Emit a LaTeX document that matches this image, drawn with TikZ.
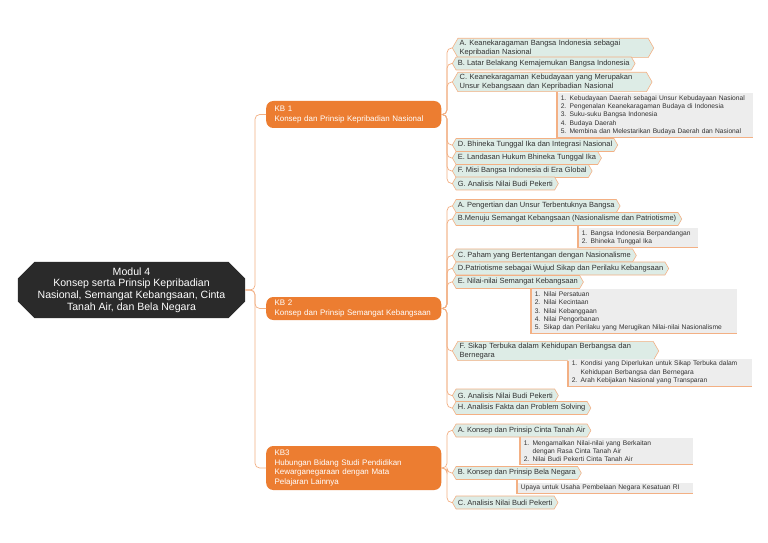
\documentclass[tikz,border=0pt]{standalone}
\usepackage{fontspec}
\setmainfont{Liberation Sans}
\usetikzlibrary{shapes.misc, shapes.symbols, positioning}
\definecolor{rootfill}{RGB}{42,42,42}
\definecolor{kbfill}{RGB}{236,125,49}
\definecolor{topicfill}{RGB}{221,236,230}
\definecolor{linkc}{RGB}{243,176,132}
\definecolor{notefill}{RGB}{237,237,237}
\definecolor{textc}{RGB}{50,50,50}
\tikzset{
    modul/.style={
        chamfered rectangle, chamfered rectangle xsep=0.33cm,
        chamfered rectangle ysep=0.16cm, inner ysep=0pt,
        fill=rootfill, text=white, align=center,
        minimum width=6.81cm, minimum height=1.68cm,
        font=\fontsize{9}{10}\selectfont
    },
    kb/.style={
        rectangle, fill=kbfill, text=white, rounded corners=6pt,
        text width=4.75cm, align=left, anchor=west,
        inner xsep=0.25cm, inner ysep=2pt,
        font=\fontsize{6.8}{8.4}\selectfont
    },
    topic/.style={
        signal, signal to=west and east, signal pointer angle=120,
        draw=linkc, line width=0.5pt, fill=topicfill, text=textc,
        align=left, anchor=west, inner xsep=1.5pt, inner ysep=1.5pt,
        minimum height=0.39cm, font=\fontsize{6.4}{7.6}\selectfont
    },
    note/.style={
        rectangle, fill=notefill, text=textc, align=left, anchor=west,
        inner xsep=3pt, inner ysep=2pt,
        font=\fontsize{5.7}{7.1}\selectfont
    },
    link/.style={draw=linkc, line width=0.6pt, rounded corners=4pt},
    notelink/.style={draw=linkc, line width=0.9pt}
}

\begin{document}
\begin{tikzpicture}[x=0.03cm, y=-0.03cm]
\useasboundingbox[fill=white] (0,0) rectangle (768,543);

% Central topic
\node[modul] (modul) at (131.5,290) {Modul 4\\Konsep serta Prinsip Kepribadian\\Nasional, Semangat Kebangsaan, Cinta\\Tanah Air, dan Bela Negara};

% Learning units
\node[kb, minimum height=0.81cm] (kb1) at (266,114.5) {KB 1\\Konsep dan Prinsip Kepribadian Nasional};
\node[kb, minimum height=0.69cm] (kb2) at (266,308.5) {KB 2\\Konsep dan Prinsip Semangat Kebangsaan};
\node[kb, minimum height=1.32cm] (kb3) at (266,468) {KB3\\Hubungan Bidang Studi Pendidikan\\Kewarganegaraan dengan Mata\\Pelajaran Lainnya};

\coordinate (trunk) at (255,290);
\draw[link] (modul) -- (trunk) |- (kb1);
\draw[link] (modul) -- (trunk) |- (kb2);
\draw[link] (modul) -- (trunk) |- (kb3);

% KB 1 topics
\node[topic, text width=5.6cm] (kb1a) at (452,48) {A. Keanekaragaman Bangsa Indonesia sebagai\\Kepribadian Nasional};
\node[topic] (kb1b) at (452,63.5) {B. Latar Belakang Kemajemukan Bangsa Indonesia};
\node[topic, text width=5.55cm] (kb1c) at (452,82) {C. Keanekaragaman Kebudayaan yang Merupakan\\Unsur Kebangsaan dan Kepribadian Nasional};
\node[topic] (kb1d) at (452,145) {D. Bhineka Tunggal Ika dan Integrasi Nasional};
\node[topic] (kb1e) at (452,158) {E. Landasan Hukum Bhineka Tunggal Ika};
\node[topic] (kb1f) at (452,171) {F. Misi Bangsa Indonesia di Era Global};
\node[topic] (kb1g) at (452,183.5) {G. Analisis Nilai Budi Pekerti};

\node[note, text width=5.65cm] (list1) at (557,115) {1. Kebudayaan Daerah sebagai Unsur Kebudayaan Nasional\\2. Pengenalan Keanekaragaman Budaya di Indonesia\\3. Suku-suku Bangsa Indonesia\\4. Budaya Daerah\\5. Membina dan Melestarikan Budaya Daerah dan Nasional};

\coordinate (s1) at (447,114.5);
\foreach \t in {kb1a,kb1b,kb1c,kb1d,kb1e,kb1f,kb1g}
    \draw[link] (kb1) -- (s1) |- (\t);
\draw[notelink] (kb1c.south -| list1.west) -- (list1.south west) -- (list1.south east);

% KB 2 topics
\node[topic] (kb2a) at (452,206) {A. Pengertian dan Unsur Terbentuknya Bangsa};
\node[topic] (kb2b) at (452,219) {B.Menuju Semangat Kebangsaan (Nasionalisme dan Patriotisme)};
\node[topic] (kb2c) at (452,255.5) {C. Paham yang Bertentangan dengan Nasionalisme};
\node[topic] (kb2d) at (452,268.5) {D.Patriotisme sebagai Wujud Sikap dan Perilaku Kebangsaan};
\node[topic] (kb2e) at (452,282) {E. Nilai-nilai Semangat Kebangsaan};
\node[topic, text width=5.75cm] (kb2f) at (452,351) {F. Sikap Terbuka dalam Kehidupan Berbangsa dan\\Bernegara};
\node[topic] (kb2g) at (452,395.5) {G. Analisis Nilai Budi Pekerti};
\node[topic] (kb2h) at (452,408) {H. Analisis Fakta dan Problem Solving};

\node[note, text width=3.37cm] (list2b) at (578,238) {1. Bangsa Indonesia Berpandangan\\2. Bhineka Tunggal Ika};
\node[note, text width=5.95cm] (list2e) at (531,311.5) {1. Nilai Persatuan\\2. Nilai Kecintaan\\3. Nilai Kebanggaan\\4. Nilai Pengorbanan\\5. Sikap dan Perilaku yang Merugikan Nilai-nilai Nasionalisme};
\node[note, text width=5.3cm] (list2f) at (568,372.5) {1. Kondisi yang Diperlukan untuk Sikap Terbuka dalam\\\phantom{1. }Kehidupan Berbangsa dan Bernegara\\2. Arah Kebijakan Nasional yang Transparan};

\coordinate (s2) at (447,308.5);
\foreach \t in {kb2a,kb2b,kb2c,kb2d,kb2e,kb2f,kb2g,kb2h}
    \draw[link] (kb2) -- (s2) |- (\t);
\draw[notelink] (kb2b.south -| list2b.west) -- (list2b.south west) -- (list2b.south east);
\draw[notelink] (kb2e.south -| list2e.west) -- (list2e.south west) -- (list2e.south east);
\draw[notelink] (kb2f.south -| list2f.west) -- (list2f.south west) -- (list2f.south east);

% KB 3 topics
\node[topic] (kb3a) at (452,430.5) {A. Konsep dan Prinsip Cinta Tanah Air};
\node[topic] (kb3b) at (452,473) {B. Konsep dan Prinsip Bela Negara};
\node[topic] (kb3c) at (452,502.5) {C. Analisis Nilai Budi Pekerti};

\node[note, text width=4.96cm] (list3a) at (520,451) {1. Mengamalkan Nilai-nilai yang Berkaitan\\\phantom{1. }dengan Rasa Cinta Tanah Air\\2. Nilai Budi Pekerti Cinta Tanah Air};
\node[note, text width=5.05cm] (list3b) at (517,488) {Upaya untuk Usaha Pembelaan Negara Kesatuan RI};

\coordinate (s3) at (447,468);
\foreach \t in {kb3a,kb3b,kb3c}
    \draw[link] (kb3) -- (s3) |- (\t);
\draw[notelink] (kb3a.south -| list3a.west) -- (list3a.south west) -- (list3a.south east);
\draw[notelink] (kb3b.south -| list3b.west) -- (list3b.south west) -- (list3b.south east);

\end{tikzpicture}
\end{document}
